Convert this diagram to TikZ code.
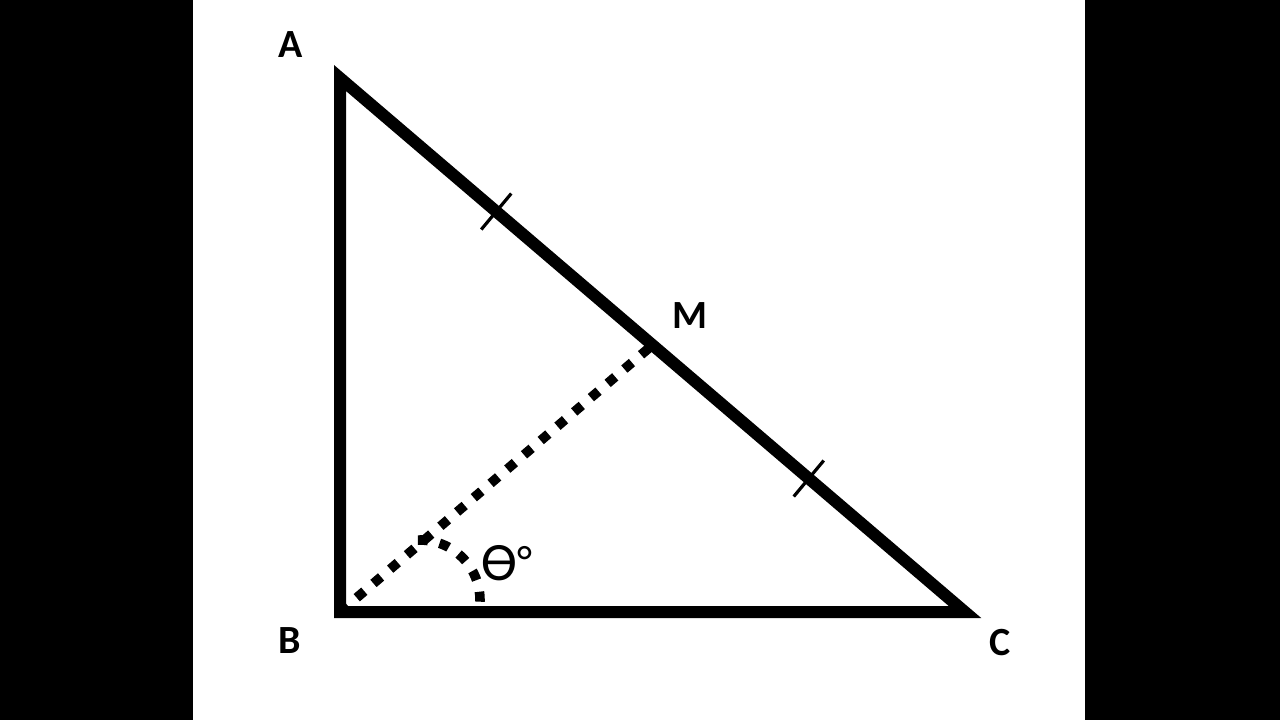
\documentclass[tikz,border=0pt]{standalone}
\usepackage{fontspec}
\setmainfont{Carlito}
\usetikzlibrary{calc}
\begin{document}
\begin{tikzpicture}[x=0.5pt,y=-0.5pt,
  side/.style={line width=6pt, line join=miter},
  dotline/.style={line width=4.8pt, dash pattern=on 5pt off 6pt},
  tickmark/.style={line width=1.6pt},
  vlabel/.style={font=\fontsize{20}{24}\selectfont\bfseries, inner sep=0pt},
  anglabel/.style={font=\fontsize{27}{30}\selectfont, inner sep=0pt, anchor=west}]
\useasboundingbox (0,0) rectangle (1280,720);
\fill[white] (0,0) rectangle (1280,720);
\fill[black] (0,0) rectangle (193,720);
\fill[black] (1085,0) rectangle (1280,720);
\coordinate (A) at (340,78);
\coordinate (B) at (340,612);
\coordinate (C) at (965,612);
\coordinate (M) at ($(A)!0.5!(C)$);
\coordinate (T1) at ($(A)!0.5!(M)$);
\coordinate (T2) at ($(M)!0.5!(C)$);
\coordinate (K) at (420,600);
\draw[dotline] (B) -- (M);
\draw[dotline] (K) ++(-92:60) arc[start angle=-92, end angle=5, radius=60];
\draw[side] (A) -- (B) -- (C) -- cycle;
\draw[tickmark] (T1) ++(15,-18) -- ++(-30,36);
\draw[tickmark] (T2) ++(15,-18) -- ++(-30,36);
\node[vlabel] (lA) at (291,45) {A};
\node[vlabel] (lB) at (290,641) {B};
\node[vlabel] (lC) at (1000,643) {C};
\node[vlabel] (lM) at (690,316) {M};
\node[anglabel] (lt) at (481,563) {Ɵ\raisebox{0.15ex}{\fontsize{22}{24}\selectfont °}};
\end{tikzpicture}
\end{document}
